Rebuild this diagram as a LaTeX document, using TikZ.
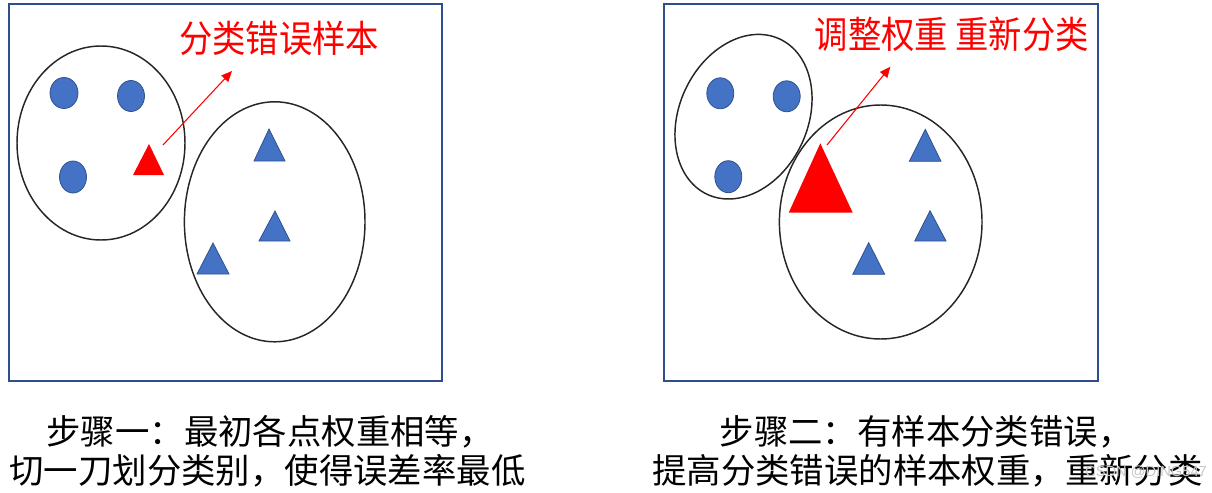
\documentclass[tikz,border=0pt]{standalone}
\usepackage{fontspec}
\setmainfont{Noto Sans CJK SC}
\newfontfamily\wmfont{Liberation Sans}
\usetikzlibrary{arrows.meta}
\definecolor{ptblue}{HTML}{4472C4}
\definecolor{ptedge}{HTML}{2F528F}
\definecolor{framec}{HTML}{2F4E8C}
\tikzset{
  panel/.style={draw=framec, line width=1.1pt},
  cluster/.style={draw=black!85, line width=1.1pt},
  dotpt/.style={fill=ptblue, draw=ptedge, line width=0.6pt},
  tripbl/.style={fill=ptblue, draw=ptedge, line width=0.6pt},
  trired/.style={fill=red},
  redarrow/.style={draw=red, line width=0.8pt, -{Triangle[length=8pt,width=7pt]}},
  redlabel/.style={text=red, inner sep=0pt, font=\fontsize{25}{28}\selectfont, yscale=1.12, transform shape},
  caption/.style={inner sep=0pt, font=\fontsize{25.8}{30}\selectfont},
}
\begin{document}
\begin{tikzpicture}[x=0.75pt,y=0.75pt]
\useasboundingbox (0,0) rectangle (1212,-492);
% ---------- left panel ----------
\draw[panel] (9,-4) rectangle (442,-381);
\draw[cluster] (101,-143) ellipse [x radius=84, y radius=97];
\draw[cluster] (274.7,-221.8) ellipse [x radius=90.3, y radius=120];
\filldraw[dotpt] (64,-93) ellipse [x radius=14, y radius=15.5];
\filldraw[dotpt] (131,-96) ellipse [x radius=13.5, y radius=15.5];
\filldraw[dotpt] (73,-177) ellipse [x radius=13.5, y radius=16];
\fill[trired] (149,-144) -- (164,-175) -- (133,-175) -- cycle;
\filldraw[tripbl] (269,-129) -- (285,-161) -- (254,-161) -- cycle;
\filldraw[tripbl] (275,-211) -- (290,-241) -- (259,-241) -- cycle;
\filldraw[tripbl] (213,-243) -- (229,-274) -- (197,-274) -- cycle;
\coordinate (a1s) at (163,-145);
\coordinate (a1e) at (232,-71);
\draw[redarrow] (a1s) -- (a1e);
\node[redlabel] (lab1) at (279,-38) {分类错误样本};
% ---------- right panel ----------
\draw[panel] (664,-4) rectangle (1098,-381);
\draw[cluster, rotate around={65:(743.5,-116.7)}] (743.5,-116.7) ellipse [x radius=85.7, y radius=64.2];
\draw[cluster] (880.7,-222) ellipse [x radius=101.3, y radius=117];
\filldraw[dotpt] (720.3,-93.3) ellipse [x radius=13.5, y radius=15.5];
\filldraw[dotpt] (786.7,-96.3) ellipse [x radius=13.5, y radius=15.5];
\filldraw[dotpt] (728.3,-176.7) ellipse [x radius=13.5, y radius=16];
\fill[trired] (820.3,-143.3) -- (852.7,-212.7) -- (788.7,-212.7) -- cycle;
\filldraw[tripbl] (925.3,-129.3) -- (941,-161.3) -- (909.3,-161.3) -- cycle;
\filldraw[tripbl] (930,-210.7) -- (946,-241) -- (914.7,-241) -- cycle;
\filldraw[tripbl] (868.7,-242.7) -- (884.7,-274.3) -- (852.7,-274.3) -- cycle;
\coordinate (a2s) at (827,-145);
\coordinate (a2e) at (890.3,-66.7);
\draw[redarrow] (a2s) -- (a2e);
\node[redlabel] (lab2) at (951.8,-34) {调整权重 重新分类};
% ---------- captions ----------
\node[caption] (c1a) at (270,-432) {步骤一：最初各点权重相等，};
\node[caption] (c1b) at (267.5,-471) {切一刀划分类别，使得误差率最低};
\node[caption] (c2a) at (926,-432) {步骤二：有样本分类错误，};
\node[caption] (c2b) at (927.5,-471) {提高分类错误的样本权重，重新分类};
\node[inner sep=0pt, text=black!22, font=\wmfont\fontsize{11}{12}\selectfont] (wm) at (1146,-472) {CSDN @DING547};
\end{tikzpicture}
\end{document}
